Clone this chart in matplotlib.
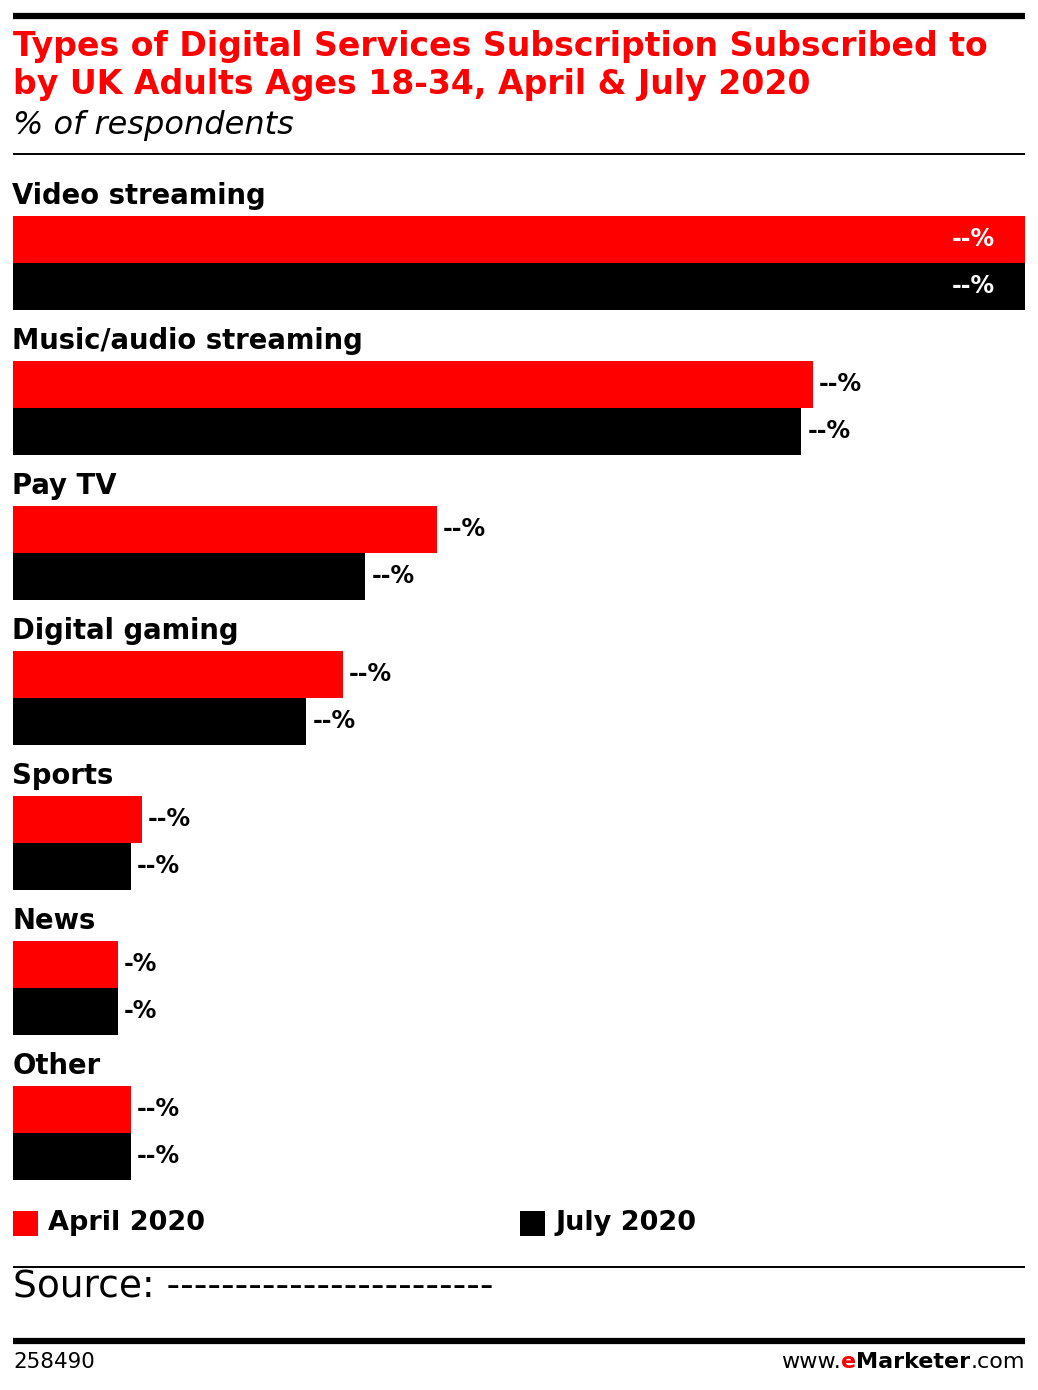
import matplotlib
matplotlib.use('Agg')
import matplotlib.pyplot as plt
from matplotlib.lines import Line2D
from matplotlib.patches import Rectangle

# data (values hidden in the source as "--%", lengths)
categories = ['Video streaming', 'Music/audio streaming', 'Pay TV', 'Digital gaming',
              'Sports', 'News', 'Other']
april_2020 = [72.0, 56.9, 30.2, 23.5, 9.2, 7.5, 8.4]
july_2020 = [72.0, 56.1, 25.1, 20.9, 8.4, 7.5, 8.4]
april_labels = ['--%', '--%', '--%', '--%', '--%', '-%', '--%']
july_labels = ['--%', '--%', '--%', '--%', '--%', '-%', '--%']
series_names = ['April 2020', 'July 2020']

RED = '#ff0000'
BLACK = '#000000'
W, H = 1038, 1390

fig = plt.figure(figsize=(W / 100, H / 100), dpi=100)


def fx(px):
	return px / W


def fy(py):
	return 1 - py / H


# horizontal rules
def hline(py, lw):
	fig.add_artist(Line2D([fx(13), fx(1025)], [fy(py), fy(py)], color=BLACK, linewidth=lw,
	                      solid_capstyle='butt'))


hline(15.5, 4.5)
hline(154, 1.4)
hline(1267, 1.4)
hline(1340.5, 4.5)

# title
fig.text(fx(13), fy(56), 'Types of Digital Services Subscription Subscribed to',
         color=RED, fontsize=23.9, fontweight='bold', va='baseline', ha='left')
fig.text(fx(13), fy(94), 'by UK Adults Ages 18-34, April & July 2020',
         color=RED, fontsize=23.9, fontweight='bold', va='baseline', ha='left')
fig.text(fx(13), fy(134), '% of respondents', fontsize=23, style='italic', va='baseline', ha='left')

# bars
bar_h = 0.324
ax = fig.add_axes([fx(12.5), fy(1181.7), fx(1012.5), (1181.7 - 172.5) / H])
ax.set_xlim(0, max(april_2020))
ax.set_ylim(6.66, -0.3)
ax.axis('off')

n = len(categories)
pos = list(range(n))
ax.barh([p + bar_h / 2 for p in pos], april_2020, height=bar_h, color=RED, linewidth=0)
ax.barh([p + 1.5 * bar_h for p in pos], july_2020, height=bar_h, color=BLACK, linewidth=0)

xmax = max(april_2020)
for i, cat in enumerate(categories):
	ax.text(0, i - 0.135, cat, fontsize=19.8, fontweight='bold', va='center', ha='left')
	for val, lab, yc in [(april_2020[i], april_labels[i], i + bar_h / 2),
	                     (july_2020[i], july_labels[i], i + 1.5 * bar_h)]:
		if val >= xmax * 0.95:
			ax.annotate(lab, (val, yc), xytext=(-30, 0), textcoords='offset pixels',
			            color='white', fontsize=17, fontweight='bold', va='center', ha='right')
		else:
			ax.annotate(lab, (val, yc), xytext=(6, 0), textcoords='offset pixels',
			            color=BLACK, fontsize=17, fontweight='bold', va='center', ha='left')

# legend
for x0, col, name in [(13, RED, series_names[0]), (520, BLACK, series_names[1])]:
	fig.add_artist(Rectangle((fx(x0), fy(1236)), fx(25), 25 / H, color=col, linewidth=0))
	fig.text(fx(x0 + 35), fy(1223), name, fontsize=19.5, fontweight='bold', va='center', ha='left')

# source and footer
fig.text(fx(13), fy(1298), 'Source: ------------------------', fontsize=27, va='baseline', ha='left')
fig.text(fx(13), fy(1362), '258490', fontsize=15.4, va='center', ha='left')
t1 = fig.text(fx(1025), fy(1362), '.com', fontsize=16, va='center', ha='right')
fig.canvas.draw()
r = fig.canvas.get_renderer()
bb = t1.get_window_extent(r)
t2 = fig.text(bb.x0 / W, fy(1362), 'Marketer', fontsize=16, fontweight='bold', va='center', ha='right')
bb = t2.get_window_extent(r)
t3 = fig.text(bb.x0 / W, fy(1362), 'e', fontsize=16, fontweight='bold', color=RED, va='center', ha='right')
bb = t3.get_window_extent(r)
fig.text(bb.x0 / W, fy(1362), 'www.', fontsize=16, va='center', ha='right')

plt.savefig('out.png', dpi=100)
